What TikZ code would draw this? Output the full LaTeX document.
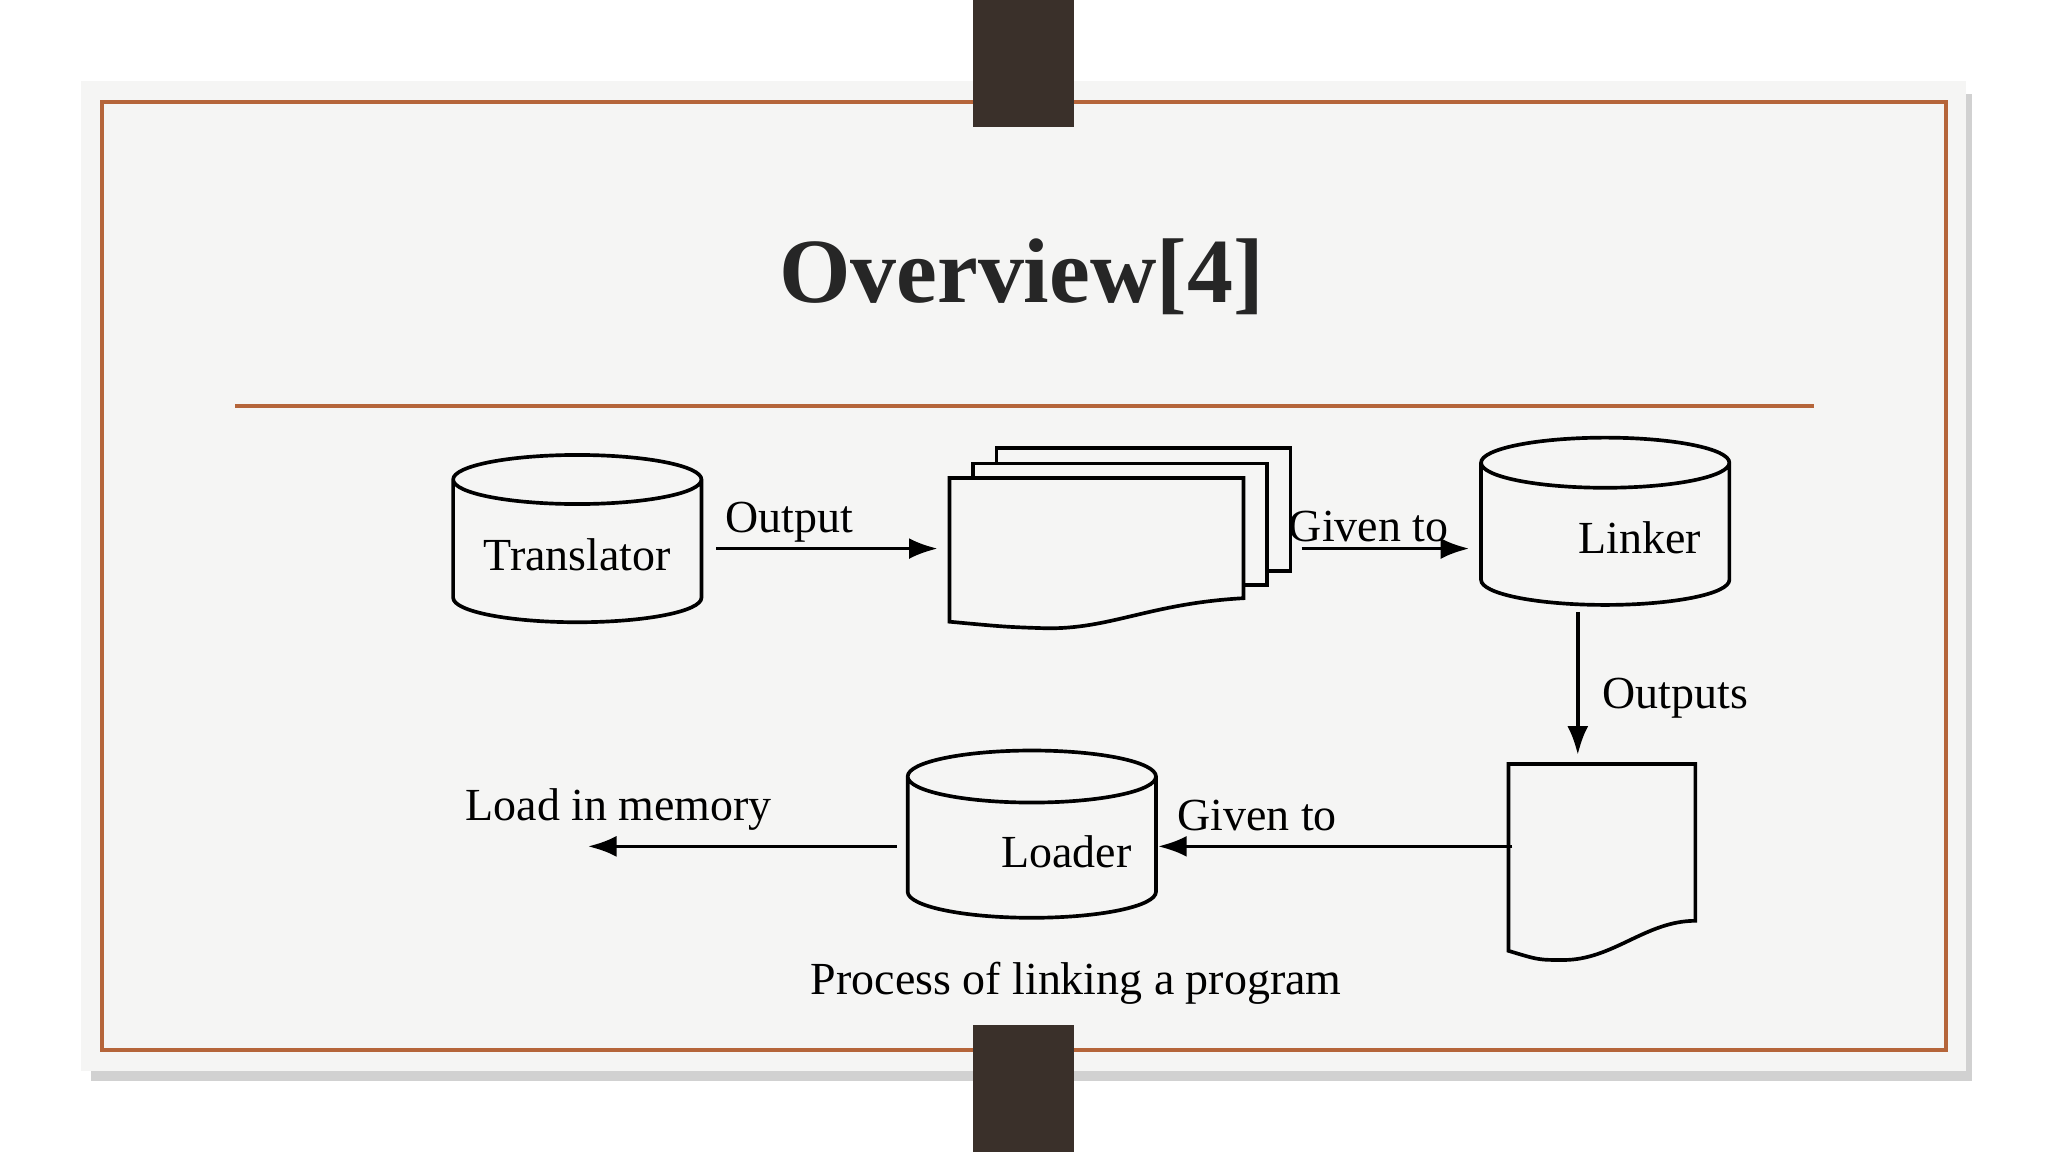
\documentclass[tikz,border=0pt]{standalone}
\usepackage{fontspec}
\setmainfont{Liberation Serif}
\usetikzlibrary{arrows.meta, shapes.geometric, positioning}
\definecolor{slidebg}{HTML}{F5F5F4}
\definecolor{rust}{HTML}{B5653A}
\definecolor{barcol}{HTML}{3A302A}
\tikzset{
  drum/.style={cylinder, shape border rotate=90, aspect=0.25, draw, thick,
    fill=slidebg, minimum width=1.9cm, minimum height=1.28cm, inner sep=1pt,
    font=\fontsize{10}{12}\selectfont},
  flow/.style={thick, -{Latex[length=2.2mm, width=1.6mm]}},
  lbl/.style={font=\fontsize{10}{12}\selectfont, inner sep=1pt}
}
\begin{document}
\begin{tikzpicture}[x=0.01cm, y=-0.01cm]
\useasboundingbox (0,0) rectangle (1568,882);
\fill[white] (0,0) rectangle (1568,882);
% slide card
\fill[black!18] (70,72) rectangle (1510,828);
\fill[slidebg] (62,62) rectangle (1505,820);
\draw[rust, thick] (78,78) rectangle (1490,804);
\fill[barcol] (745,0) rectangle (822,97);
\fill[barcol] (745,785) rectangle (822,882);
\node[font=\fontsize{20}{24}\selectfont\bfseries, text=black!85] (title) at (782,212) {Overview[4]};
\draw[rust, thick] (180,311) -- (1389,311);
% drums
\node[drum] (trans) at (442,425) {Translator};
\node[drum] (link) at (1229,412) {\hspace{1.5em}Linker};
\node[drum] (load) at (790,652) {\hspace{1.5em}Loader};
% stack of pages
\node[draw, thick, fill=slidebg, minimum width=2.25cm, minimum height=0.94cm, inner sep=0pt] (back) at (875.5,390) {};
\node[draw, thick, fill=slidebg, minimum width=2.25cm, minimum height=0.93cm, inner sep=0pt] (mid) at (857.5,401.5) {};
\draw[thick, fill=slidebg] (727,366) -- (952,366) -- (952,458)
  .. controls (880,462) and (850,482) .. (800,481)
  .. controls (770,480) .. (727,476) -- cycle;
\coordinate (front) at (718,420);
% single page
\draw[thick, fill=slidebg] (1155,585) -- (1298,585) -- (1298,705)
  .. controls (1260,705) and (1235,735) .. (1197,735)
  .. controls (1178,735) .. (1155,728) -- cycle;
\coordinate (rep) at (1158,648);
\coordinate (repin) at (1208,578);
\coordinate (mem) at (450,648);
% connectors
\draw[flow] (trans.east |- front) ++(10,0) -- (front) node[lbl, pos=0.33, above=0pt] {Output};
\draw[flow] (back.east |- front) ++(7,0) -- (1125,420) node[lbl, pos=0.4, above=0pt] {Given to};
\draw[flow] (link.south) ++(-21,4) -- (repin) node[lbl, pos=0.6, right=4pt] {Outputs};
\draw[flow] (rep) -- (load.east |- rep) node[lbl, pos=0.72, above=2pt] {Given to};
\draw[flow] (load.west |- rep) ++(-7,0) -- (mem) node[lbl, pos=0.9, above=2pt] {Load in memory};
\node[lbl] (cap) at (824,753) {Process of linking a program};
\end{tikzpicture}
\end{document}
